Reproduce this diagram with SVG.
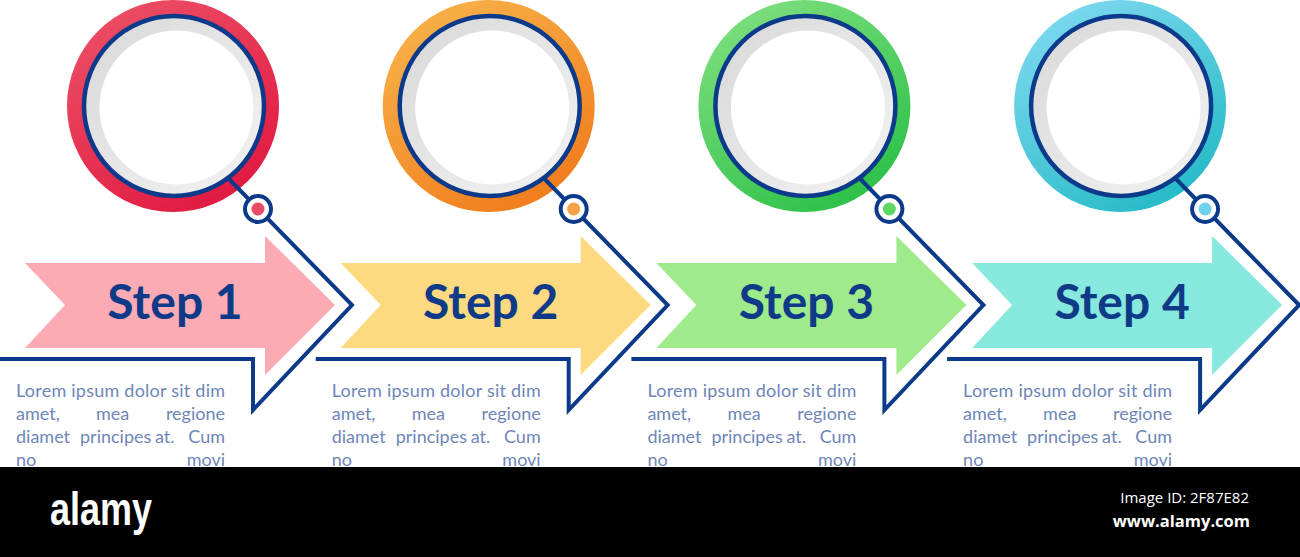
<svg xmlns="http://www.w3.org/2000/svg" width="1300" height="557" viewBox="0 0 1300 557">
<style>
.ln{fill:none;stroke:#0c3a8a;stroke-width:4;stroke-linejoin:miter;stroke-linecap:butt}
.blue{fill:url(#gray);stroke:#0c3a8a;stroke-width:4.5}
.hole{fill:#ffffff}
.knob{fill:#ffffff;stroke:#0c3a8a;stroke-width:4}
.step{font-family:Lato,"Liberation Sans",sans-serif;font-weight:700;font-size:48px;fill:#0e3a88;text-anchor:middle}
.body{font-family:Lato,"Liberation Sans",sans-serif;font-size:18px;fill:#6e86b8}
.end{text-anchor:end}
</style>
<defs>
<linearGradient id="gray" x1="0" y1="0" x2="1" y2="1">
<stop offset="0" stop-color="#d8d8d8"/><stop offset="1" stop-color="#f3f3f3"/>
</linearGradient>
<linearGradient id="g1" x1="0.2" y1="0" x2="0.8" y2="1">
<stop offset="0" stop-color="#ec4f66"/><stop offset="1" stop-color="#e0173f"/>
</linearGradient>
<linearGradient id="g2" x1="0.2" y1="0" x2="0.8" y2="1">
<stop offset="0" stop-color="#f8b24a"/><stop offset="1" stop-color="#f07a1a"/>
</linearGradient>
<linearGradient id="g3" x1="0.2" y1="0" x2="0.8" y2="1">
<stop offset="0" stop-color="#7fdf7f"/><stop offset="1" stop-color="#28bf45"/>
</linearGradient>
<linearGradient id="g4" x1="0.2" y1="0" x2="0.8" y2="1">
<stop offset="0" stop-color="#7ed9ef"/><stop offset="1" stop-color="#22b9c5"/>
</linearGradient>
<polygon id="arrowShape" points="25,263 265,263 265,236 335,305 265,375 265,348 25,348 65,305"/>
</defs>
<rect width="1300" height="557" fill="#ffffff"/>

<g id="step1">
<circle cx="173" cy="106" r="106" fill="url(#g1)"/>
<circle class="blue" cx="174" cy="106" r="90"/>
<circle class="hole" cx="176.5" cy="107.5" r="77"/>
<use href="#arrowShape" fill="#fcaab3"/>
<text class="step" x="175" y="319">Step 1</text>
<text class="body" x="16" y="397" textLength="209" lengthAdjust="spacing">Lorem ipsum dolor sit dim</text>
<text class="body" x="16" y="420">amet,</text><text class="body" x="96" y="420">mea</text><text class="body end" x="225" y="420">regione</text>
<text class="body" x="16" y="443">diamet</text><text class="body" x="80" y="443">principes</text><text class="body" x="155" y="443">at.</text><text class="body end" x="225" y="443">Cum</text>
<text class="body" x="16" y="466">no</text><text class="body end" x="225" y="466">movi</text>
</g>

<g id="step2" transform="translate(315.7,0)">
<circle cx="173" cy="106" r="106" fill="url(#g2)"/>
<circle class="blue" cx="174" cy="106" r="90"/>
<circle class="hole" cx="176.5" cy="107.5" r="77"/>
<use href="#arrowShape" fill="#fdda80"/>
<text class="step" x="175" y="319">Step 2</text>
<text class="body" x="16" y="397" textLength="209" lengthAdjust="spacing">Lorem ipsum dolor sit dim</text>
<text class="body" x="16" y="420">amet,</text><text class="body" x="96" y="420">mea</text><text class="body end" x="225" y="420">regione</text>
<text class="body" x="16" y="443">diamet</text><text class="body" x="80" y="443">principes</text><text class="body" x="155" y="443">at.</text><text class="body end" x="225" y="443">Cum</text>
<text class="body" x="16" y="466">no</text><text class="body end" x="225" y="466">movi</text>
</g>

<g id="step3" transform="translate(631.4,0)">
<circle cx="173" cy="106" r="106" fill="url(#g3)"/>
<circle class="blue" cx="174" cy="106" r="90"/>
<circle class="hole" cx="176.5" cy="107.5" r="77"/>
<use href="#arrowShape" fill="#9feb8c"/>
<text class="step" x="175" y="319">Step 3</text>
<text class="body" x="16" y="397" textLength="209" lengthAdjust="spacing">Lorem ipsum dolor sit dim</text>
<text class="body" x="16" y="420">amet,</text><text class="body" x="96" y="420">mea</text><text class="body end" x="225" y="420">regione</text>
<text class="body" x="16" y="443">diamet</text><text class="body" x="80" y="443">principes</text><text class="body" x="155" y="443">at.</text><text class="body end" x="225" y="443">Cum</text>
<text class="body" x="16" y="466">no</text><text class="body end" x="225" y="466">movi</text>
</g>

<g id="step4" transform="translate(947.1,0)">
<circle cx="173" cy="106" r="106" fill="url(#g4)"/>
<circle class="blue" cx="174" cy="106" r="90"/>
<circle class="hole" cx="176.5" cy="107.5" r="77"/>
<use href="#arrowShape" fill="#87e9dd"/>
<text class="step" x="175" y="319">Step 4</text>
<text class="body" x="16" y="397" textLength="209" lengthAdjust="spacing">Lorem ipsum dolor sit dim</text>
<text class="body" x="16" y="420">amet,</text><text class="body" x="96" y="420">mea</text><text class="body end" x="225" y="420">regione</text>
<text class="body" x="16" y="443">diamet</text><text class="body" x="80" y="443">principes</text><text class="body" x="155" y="443">at.</text><text class="body end" x="225" y="443">Cum</text>
<text class="body" x="16" y="466">no</text><text class="body end" x="225" y="466">movi</text>
</g>

<g id="connectors">
<g transform="translate(0,0)">
<path class="ln" d="M228 178 L352 305 L253 410 L253 359 L0 359"/>
<circle class="knob" cx="258" cy="209" r="13"/><circle cx="258" cy="209" r="6.5" fill="#ea4a63"/>
</g>
<g transform="translate(315.7,0)">
<path class="ln" d="M228 178 L352 305 L253 410 L253 359 L0 359"/>
<circle class="knob" cx="258" cy="209" r="13"/><circle cx="258" cy="209" r="6.5" fill="#f4a245"/>
</g>
<g transform="translate(631.4,0)">
<path class="ln" d="M228 178 L352 305 L253 410 L253 359 L0 359"/>
<circle class="knob" cx="258" cy="209" r="13"/><circle cx="258" cy="209" r="6.5" fill="#5cd764"/>
</g>
<g transform="translate(947.1,0)">
<path class="ln" d="M228 178 L352 305 L253 410 L253 359 L0 359"/>
<circle class="knob" cx="258" cy="209" r="13"/><circle cx="258" cy="209" r="6.5" fill="#6fd2ea"/>
</g>
</g>

<g id="watermark">
<rect x="0" y="467" width="1300" height="90" fill="#000000"/>
<text x="50" y="525" font-family="'Liberation Sans',sans-serif" font-weight="700" font-size="46" fill="#ffffff" textLength="102" lengthAdjust="spacingAndGlyphs">alamy</text>
<text x="1249" y="503" font-family="'Open Sans','DejaVu Sans',sans-serif" font-size="15" fill="#ffffff" text-anchor="end">Image ID: 2F87E82</text>
<text x="1250" y="527" font-family="'Open Sans','DejaVu Sans',sans-serif" font-weight="700" font-size="16.5" fill="#ffffff" text-anchor="end">www.alamy.com</text>
</g>
</svg>
